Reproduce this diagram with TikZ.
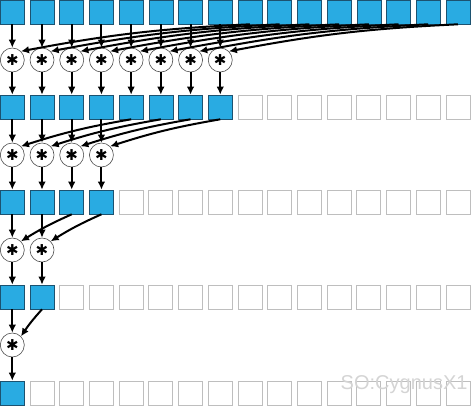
\documentclass[tikz,border=0pt]{standalone}
\usepackage{amssymb}
\usepackage{amsmath}
\usepackage{fontspec}
\usepackage{xcolor}
\usetikzlibrary{positioning,arrows.meta}
\newfontfamily\markfont{Liberation Sans}
\newfontfamily\opfont{DejaVu Sans}
\definecolor{cell-blue}{RGB}{41,171,226}
\definecolor{cell-edge}{RGB}{28,82,112}
\definecolor{cell-grey}{RGB}{190,190,190}
\definecolor{mark-grey}{RGB}{212,212,212}
\begin{document}
\begin{tikzpicture}
[
x=1pt, y=1pt,
cell-a/.style={rectangle, draw=cell-edge, fill=cell-blue, line width=0.6pt, minimum size=24pt, inner sep=0pt},
cell-b/.style={rectangle, draw=cell-grey, fill=white, line width=0.9pt, minimum size=24pt, inner sep=0pt},
op-a/.style={circle, draw=black!70, fill=white, line width=0.6pt, minimum size=24pt, inner sep=0pt, font=\opfont\fontsize{15}{16}\selectfont},
link-a/.style={line width=2pt, -{Latex[length=8pt,width=7.5pt]}},
text-a/.style={mark-grey, font=\markfont\fontsize{20}{24}\selectfont}
]
\useasboundingbox (0,0) rectangle (474,-405);
% filled cells of every row
\foreach \r/\y/\n in {0/12/15, 1/107/7, 2/202/3, 3/297/1, 4/393/0}
  \foreach \i in {0,...,\n}
    \node (cell-\r-\i) [cell-a] at ({12.3+29.71*\i}, -\y) {};
% empty cells
\foreach \r/\y/\n in {1/107/8, 2/202/4, 3/297/2, 4/393/1}
  \foreach \i in {\n,...,15}
    \node (cell-\r-\i) [cell-b] at ({12.3+29.71*\i}, -\y) {};
% operators
\foreach \r/\y/\n in {1/60/7, 2/155/3, 3/250/1, 4/345/0}
  \foreach \i in {0,...,\n}
    \node (op-\r-\i) [op-a] at ({12.3+29.71*\i}, -\y) {✱};
% connectors
\foreach \r/\p/\n/\h in {1/0/7/8, 2/1/3/4, 3/2/1/2, 4/3/0/1}
  \foreach \i in {0,...,\n} {
    \pgfmathtruncatemacro{\j}{\i+\h}
    \draw [link-a] (cell-\p-\i) -- (op-\r-\i);
    \draw [link-a] (cell-\p-\j.south) to [bend right=4] (op-\r-\i.north east);
    \draw [link-a] (op-\r-\i) -- (cell-\r-\i);
  }
\node (mark) [text-a, anchor=base east] at (471,-389) {SO:CygnusX1};
\end{tikzpicture}
\end{document}
